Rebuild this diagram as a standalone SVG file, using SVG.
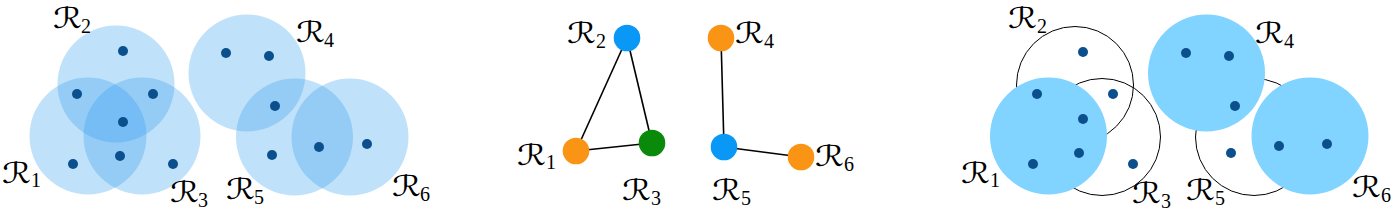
<svg xmlns="http://www.w3.org/2000/svg" width="1397" height="212" viewBox="0 0 1397 212">
<style>
.lbl{font-family:"DejaVu Serif","DejaVu Sans",serif;font-size:29px;fill:#000}
.sub{font-family:"Liberation Serif",serif;font-size:20px;fill:#000}
.reg{fill:rgb(46,155,240);fill-opacity:0.3}
.dot{fill:#0b4f8c}
.fill{fill:#80d4ff}
.ring{fill:none;stroke:#000;stroke-width:1}
.edge{stroke:#000;stroke-width:1.6}
.blue{fill:#0a98f7}.orange{fill:#fa9414}.green{fill:#0a8a0a}
</style>
<g id="left-panel">
<g id="L-R1"><circle class="reg" cx="88" cy="136" r="58.5"/><text class="lbl" transform="translate(2,183) scale(1.25,1)">ℛ</text><text class="sub" x="31" y="187">1</text></g>
<g id="L-R2"><circle class="reg" cx="116" cy="84" r="58.5"/><text class="lbl" transform="translate(53,28) scale(1.25,1)">ℛ</text><text class="sub" x="81" y="33">2</text></g>
<g id="L-R3"><circle class="reg" cx="142" cy="136" r="58.5"/><text class="lbl" transform="translate(170,202) scale(1.25,1)">ℛ</text><text class="sub" x="198" y="207">3</text></g>
<g id="L-R4"><circle class="reg" cx="247" cy="73" r="58.5"/><text class="lbl" transform="translate(296,42) scale(1.25,1)">ℛ</text><text class="sub" x="324" y="47">4</text></g>
<g id="L-R5"><circle class="reg" cx="294.5" cy="137" r="58.5"/><text class="lbl" transform="translate(226,199) scale(1.25,1)">ℛ</text><text class="sub" x="254" y="204">5</text></g>
<g id="L-R6"><circle class="reg" cx="350" cy="137" r="58.5"/><text class="lbl" transform="translate(392,196) scale(1.25,1)">ℛ</text><text class="sub" x="420" y="201">6</text></g>
<g id="L-points">
<circle class="dot" cx="123" cy="51" r="5"/><circle class="dot" cx="77" cy="94" r="5"/><circle class="dot" cx="153" cy="94" r="5"/>
<circle class="dot" cx="123" cy="122" r="5"/><circle class="dot" cx="120" cy="156" r="5"/><circle class="dot" cx="73" cy="164" r="5"/>
<circle class="dot" cx="173" cy="164" r="5"/><circle class="dot" cx="226" cy="53" r="5"/><circle class="dot" cx="269" cy="56" r="5"/>
<circle class="dot" cx="275" cy="106" r="5"/><circle class="dot" cx="272" cy="155" r="5"/><circle class="dot" cx="319" cy="147" r="5"/>
<circle class="dot" cx="367" cy="144" r="5"/>
</g>
</g>
<g id="connectors">
<line class="edge" x1="627" y1="38" x2="576" y2="151"/>
<line class="edge" x1="627" y1="38" x2="652" y2="143"/>
<line class="edge" x1="576" y1="151" x2="652" y2="143"/>
<line class="edge" x1="721" y1="38" x2="724" y2="147"/>
<line class="edge" x1="724" y1="147" x2="801" y2="157"/>
</g>
<g id="M-R1"><circle class="orange" cx="576" cy="151" r="13.3"/><text class="lbl" transform="translate(517,165) scale(1.25,1)">ℛ</text><text class="sub" x="546" y="169">1</text></g>
<g id="M-R2"><circle class="blue" cx="627" cy="38" r="13.3"/><text class="lbl" transform="translate(567,43) scale(1.25,1)">ℛ</text><text class="sub" x="596" y="48">2</text></g>
<g id="M-R3"><circle class="green" cx="652" cy="143" r="13.3"/><text class="lbl" transform="translate(622,200) scale(1.25,1)">ℛ</text><text class="sub" x="651" y="205">3</text></g>
<g id="M-R4"><circle class="orange" cx="721" cy="38" r="13.3"/><text class="lbl" transform="translate(735,43) scale(1.25,1)">ℛ</text><text class="sub" x="764" y="48">4</text></g>
<g id="M-R5"><circle class="blue" cx="724" cy="147" r="13.3"/><text class="lbl" transform="translate(712,200) scale(1.25,1)">ℛ</text><text class="sub" x="741" y="205">5</text></g>
<g id="M-R6"><circle class="orange" cx="801" cy="157" r="13.3"/><text class="lbl" transform="translate(815,166) scale(1.25,1)">ℛ</text><text class="sub" x="844" y="171">6</text></g>
<g id="right-panel">
<g id="R-R2"><circle class="ring" cx="1075" cy="85" r="58.5"/><text class="lbl" transform="translate(1008,28) scale(1.25,1)">ℛ</text><text class="sub" x="1037" y="33">2</text></g>
<g id="R-R3"><circle class="ring" cx="1102" cy="137" r="58.5"/><text class="lbl" transform="translate(1132,203) scale(1.25,1)">ℛ</text><text class="sub" x="1161" y="208">3</text></g>
<g id="R-R5"><circle class="ring" cx="1254" cy="137" r="58.5"/><text class="lbl" transform="translate(1186,200) scale(1.25,1)">ℛ</text><text class="sub" x="1215" y="205">5</text></g>
<g id="R-R1"><circle class="fill" cx="1048.5" cy="136" r="58.5"/><text class="lbl" transform="translate(961,183) scale(1.25,1)">ℛ</text><text class="sub" x="990" y="187">1</text></g>
<g id="R-R4"><circle class="fill" cx="1206.5" cy="73" r="58.5"/><text class="lbl" transform="translate(1255,43) scale(1.25,1)">ℛ</text><text class="sub" x="1284" y="48">4</text></g>
<g id="R-R6"><circle class="fill" cx="1310" cy="136" r="58.5"/><text class="lbl" transform="translate(1352,197) scale(1.25,1)">ℛ</text><text class="sub" x="1381" y="202">6</text></g>
<g id="R-points">
<circle class="dot" cx="1083" cy="52" r="5"/><circle class="dot" cx="1037" cy="94" r="5"/><circle class="dot" cx="1113" cy="94" r="5"/>
<circle class="dot" cx="1083" cy="119" r="5"/><circle class="dot" cx="1079" cy="153" r="5"/><circle class="dot" cx="1033" cy="164" r="5"/>
<circle class="dot" cx="1133" cy="164" r="5"/><circle class="dot" cx="1186" cy="53" r="5"/><circle class="dot" cx="1229" cy="56" r="5"/>
<circle class="dot" cx="1235" cy="106" r="5"/><circle class="dot" cx="1231" cy="153" r="5"/><circle class="dot" cx="1279" cy="146" r="5"/>
<circle class="dot" cx="1327" cy="144" r="5"/>
</g>
</g>
</svg>
